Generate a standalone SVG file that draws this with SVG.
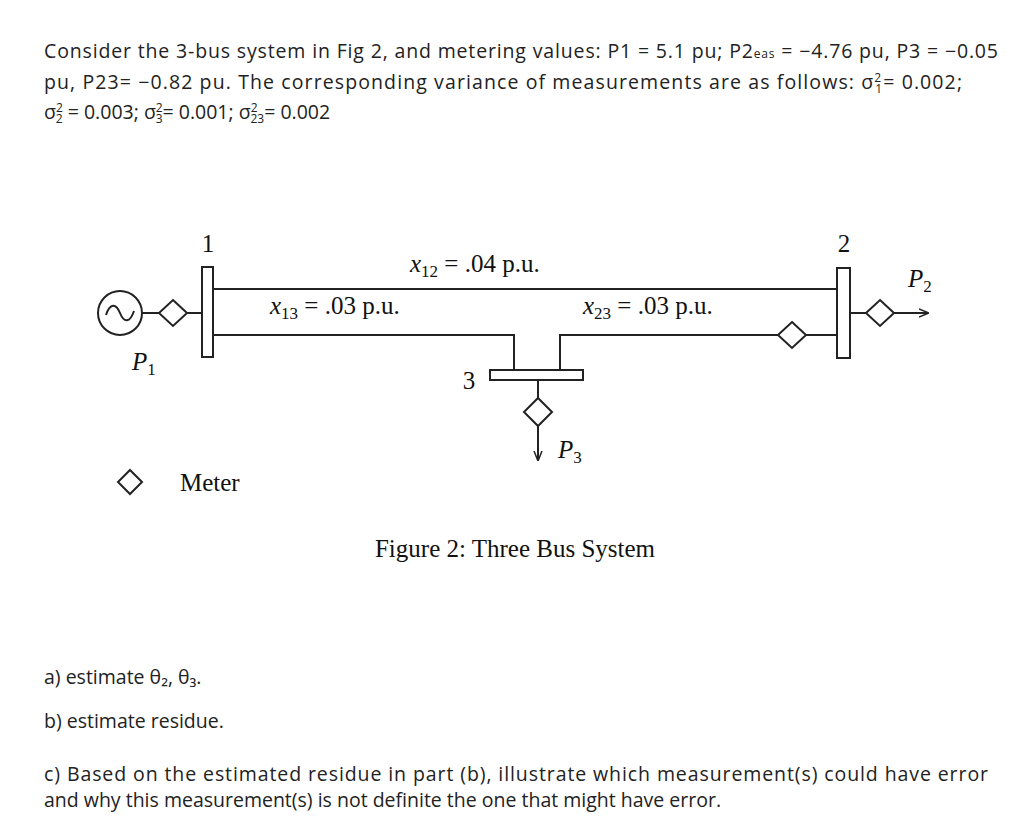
<svg xmlns="http://www.w3.org/2000/svg" width="1024" height="834" viewBox="0 0 1024 834">
<style>
.t{font-family:"Open Sans","Liberation Sans",sans-serif;font-size:19.5px;fill:#222}
.m{font-family:"Liberation Serif",serif;font-size:25px;fill:#111}
.i{font-style:italic}
.ln{stroke:#222;stroke-width:2;fill:none}
.bus{fill:#fff;stroke:#222;stroke-width:2}
.mt{fill:#fff;stroke:#222;stroke-width:2}
.s{font-size:12px}
</style>
<defs><marker id="ar" viewBox="0 0 10 10" refX="9" refY="5" markerWidth="10" markerHeight="10" markerUnits="userSpaceOnUse" orient="auto"><path d="M0,1 L10,5 L0,9" fill="none" stroke="#222" stroke-width="1.5"/></marker></defs>
<rect width="1024" height="834" fill="#fff"/>
<text class="t" x="44" y="58" textLength="954" lengthAdjust="spacing">Consider the 3-bus system in Fig 2, and metering values: P1 = 5.1 pu; P2<tspan class="s">eas</tspan> = −4.76 pu, P3 = −0.05</text>
<text class="t" x="44" y="89" textLength="918" lengthAdjust="spacing">pu, P23= −0.82 pu. The corresponding variance of measurements are as follows: σ<tspan class="s" dy="-7">2</tspan><tspan class="s" dx="-7" dy="11">1</tspan><tspan dy="-4">= 0.002;</tspan></text>
<text class="t" x="44" y="119">σ<tspan class="s" dy="-7">2</tspan><tspan class="s" dx="-7" dy="11">2</tspan><tspan dy="-4"> = 0.003; σ</tspan><tspan class="s" dy="-7">2</tspan><tspan class="s" dx="-7" dy="11">3</tspan><tspan dy="-4">= 0.001; σ</tspan><tspan class="s" dy="-7">2</tspan><tspan class="s" dx="-7" dy="11">23</tspan><tspan dy="-4">= 0.002</tspan></text>
<g id="connectors">
<line class="ln" x1="142" y1="313" x2="159" y2="313"/>
<line class="ln" x1="187" y1="313" x2="202" y2="313"/>
<path class="ln" d="M213,289 H837"/>
<path class="ln" d="M213,335 H514 V370"/>
<path class="ln" d="M560,370 V335 H778"/>
<line class="ln" x1="806" y1="335" x2="837" y2="335"/>
<line class="ln" x1="850" y1="313" x2="866" y2="313"/>
<line class="ln" x1="894" y1="313" x2="928" y2="313" marker-end="url(#ar)"/>
<line class="ln" x1="538" y1="380" x2="538" y2="398"/>
<line class="ln" x1="538" y1="426" x2="538" y2="460" marker-end="url(#ar)"/>
</g>
<g id="gen"><circle class="mt" cx="120" cy="313" r="22"/><path class="ln" d="M106,315 C110,303 116,303 120,313 C124,323 130,323 134,311"/></g>
<g id="bus1"><rect class="bus" x="202" y="267" width="11" height="90"/><text class="m" x="208" y="252" text-anchor="middle" font-size="22">1</text></g>
<g id="bus2"><rect class="bus" x="837" y="268" width="13" height="90"/><text class="m" x="844" y="252" text-anchor="middle" font-size="22">2</text></g>
<g id="bus3"><rect class="bus" x="490" y="370" width="93" height="10"/><text class="m" x="469" y="389" text-anchor="middle" font-size="22">3</text></g>
<g id="meters">
<path class="mt" d="M173,300 L187,313 L173,326 L159,313Z"/>
<path class="mt" d="M792,322 L806,335 L792,348 L778,335Z"/>
<path class="mt" d="M880,300 L894,313 L880,326 L866,313Z"/>
<path class="mt" d="M538,398 L552,412 L538,426 L524,412Z"/>
</g>
<g id="labels">
<text class="m" x="410" y="272"><tspan class="i">x</tspan><tspan font-size="17" dy="5">12</tspan><tspan dy="-5"> = .04 p.u.</tspan></text>
<text class="m" x="270" y="314"><tspan class="i">x</tspan><tspan font-size="17" dy="5">13</tspan><tspan dy="-5"> = .03 p.u.</tspan></text>
<text class="m" x="583" y="314"><tspan class="i">x</tspan><tspan font-size="17" dy="5">23</tspan><tspan dy="-5"> = .03 p.u.</tspan></text>
<text class="m i" x="132" y="370">P<tspan font-size="17" dy="5" font-style="normal">1</tspan></text>
<text class="m i" x="908" y="287">P<tspan font-size="17" dy="5" font-style="normal">2</tspan></text>
<text class="m i" x="558" y="458">P<tspan font-size="17" dy="5" font-style="normal">3</tspan></text>
</g>
<g id="legend"><path class="mt" d="M130,470 L142,482 L130,494 L118,482Z"/><text class="m" x="180" y="491">Meter</text></g>
<text class="m" x="515" y="557" text-anchor="middle" font-size="19">Figure 2: Three Bus System</text>
<text class="t" x="44" y="684">a) estimate θ₂, θ₃.</text>
<text class="t" x="44" y="728">b) estimate residue.</text>
<text class="t" x="44" y="781" textLength="944" lengthAdjust="spacing">c) Based on the estimated residue in part (b), illustrate which measurement(s) could have error</text>
<text class="t" x="44" y="807">and why this measurement(s) is not definite the one that might have error.</text>
</svg>
